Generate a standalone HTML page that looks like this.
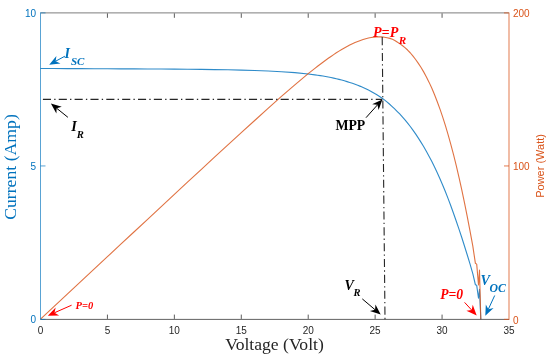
<!DOCTYPE html>
<html><head><meta charset="utf-8"><style>
html,body{margin:0;padding:0;background:#fff;}
svg{display:block;}
.sans{font-family:"Liberation Sans",Arial,sans-serif;}
.serif{font-family:"Liberation Serif","Times New Roman",serif;}
.bi{font-family:"Liberation Serif","Times New Roman",serif;font-weight:bold;font-style:italic;}
</style></head><body>
<svg width="550" height="358" viewBox="0 0 550 358">
<rect width="550" height="358" fill="#fff"/>
<g fill="none" stroke-width="1">
<polyline points="40.50,68.51 53.89,68.56 67.27,68.61 80.66,68.67 94.04,68.73 107.43,68.79 120.81,68.85 134.20,68.92 147.59,68.99 160.97,69.07 174.36,69.16 187.74,69.28 201.13,69.41 214.51,69.58 227.90,69.80 241.29,70.09 254.67,70.47 268.06,70.98 281.44,71.69 294.83,72.66 308.21,74.00 314.91,74.86 317.58,75.24 320.26,75.65 322.94,76.08 325.62,76.55 328.29,77.05 330.97,77.58 333.65,78.14 336.32,78.75 339.00,79.39 341.68,80.08 344.36,80.82 347.03,81.60 349.71,82.44 352.39,83.33 355.06,84.28 357.74,85.29 360.42,86.37 363.10,87.53 365.77,88.75 368.45,90.06 371.13,91.45 373.80,92.94 376.48,94.51 379.16,96.19 381.84,97.98 384.41,99.87 386.91,101.89 389.41,104.03 391.91,106.30 394.42,108.71 397.06,111.27 399.71,113.98 402.35,116.85 405.00,119.89 407.64,123.11 410.29,126.51 412.93,130.11 415.58,133.90 418.22,137.91 420.91,142.13 423.62,146.58 426.32,151.26 429.02,156.18 431.73,161.36 434.43,166.79 437.14,172.49 439.84,178.47 442.53,184.73 445.23,191.27 447.92,198.11 450.61,205.26 453.31,212.71 456.03,220.48 458.81,228.56 461.60,236.97 464.38,245.71 467.20,254.78 470.06,264.18 472.86,273.93 475.40,284.75 476.70,285.35 478.50,298.27 479.50,289.25 480.80,319.20" stroke="#0072BD" stroke-width="1.1" stroke-opacity="0.82" stroke-linejoin="round"/>
<polyline points="40.50,319.20 53.89,306.69 67.27,294.18 80.66,281.68 94.04,269.19 107.43,256.70 120.81,244.21 134.20,231.74 147.59,219.28 160.97,206.82 174.36,194.38 187.74,181.96 201.13,169.57 214.51,157.21 227.90,144.90 241.29,132.66 254.67,120.48 268.06,108.34 281.44,96.42 294.83,84.82 308.21,73.68 314.91,68.34 317.58,66.26 320.26,64.22 322.94,62.21 325.62,60.24 328.29,58.31 330.97,56.43 333.65,54.60 336.32,52.83 339.00,51.11 341.68,49.48 344.36,47.95 347.03,46.48 349.71,45.10 352.39,43.79 355.06,42.57 357.74,41.45 360.42,40.42 363.10,39.52 365.77,38.73 368.45,38.07 371.13,37.53 373.80,37.14 376.48,36.89 379.16,36.80 381.84,36.89 384.51,37.19 387.19,37.69 389.87,38.39 392.47,39.31 394.81,40.47 397.14,41.97 399.66,43.62 402.31,45.46 404.95,47.58 407.59,50.01 410.21,52.75 412.83,55.83 415.45,59.27 418.17,63.08 420.92,67.27 423.66,71.88 426.41,76.91 429.14,82.39 431.85,88.33 434.56,94.76 437.27,101.69 439.99,109.14 442.71,117.14 445.43,125.70 448.15,134.84 450.87,144.58 453.60,154.93 456.32,165.93 459.05,177.58 461.78,189.89 464.51,202.90 467.26,216.61 470.04,231.04 472.82,246.20 475.40,263.32 476.70,264.13 478.50,285.01 479.50,270.17 480.80,319.20" stroke="#D95319" stroke-width="1.1" stroke-opacity="0.82" stroke-linejoin="round"/>
<line x1="42.9" y1="99.4" x2="382.2" y2="99.4" stroke="#262626" stroke-width="1.1" stroke-dasharray="8.1 3.2 1.35 3.2"/>
<line x1="382.2" y1="37.1" x2="385.0" y2="319.2" stroke="#262626" stroke-width="1.1" stroke-dasharray="8.1 3.2 1.35 3.2"/>
</g>
<g stroke="#262626" stroke-width="1">
<line x1="40.5" y1="319.4" x2="509.0" y2="319.4" stroke-opacity="0.72"/>
<line x1="40.5" y1="12.9" x2="509.0" y2="12.9" stroke-opacity="0.6"/>
<g stroke-opacity="0.75"><line x1="107.43" y1="318.9" x2="107.43" y2="314.6"/><line x1="107.43" y1="13.4" x2="107.43" y2="17.8"/><line x1="174.36" y1="318.9" x2="174.36" y2="314.6"/><line x1="174.36" y1="13.4" x2="174.36" y2="17.8"/><line x1="241.29" y1="318.9" x2="241.29" y2="314.6"/><line x1="241.29" y1="13.4" x2="241.29" y2="17.8"/><line x1="308.21" y1="318.9" x2="308.21" y2="314.6"/><line x1="308.21" y1="13.4" x2="308.21" y2="17.8"/><line x1="375.14" y1="318.9" x2="375.14" y2="314.6"/><line x1="375.14" y1="13.4" x2="375.14" y2="17.8"/><line x1="442.07" y1="318.9" x2="442.07" y2="314.6"/><line x1="442.07" y1="13.4" x2="442.07" y2="17.8"/></g>
</g>
<g stroke="#0072BD" stroke-width="1" stroke-opacity="0.65"><line x1="40.5" y1="12.4" x2="40.5" y2="319.9"/><line x1="40.5" y1="165.95" x2="45.5" y2="165.95"/>
<line x1="41" y1="12.9" x2="45.5" y2="12.9"/><line x1="41" y1="319.4" x2="45.5" y2="319.4"/></g>
<g stroke="#D95319" stroke-width="1.1" stroke-opacity="0.7"><line x1="509.0" y1="12.4" x2="509.0" y2="319.9"/><line x1="509.0" y1="165.95" x2="504.0" y2="165.95"/>
<line x1="508.5" y1="12.9" x2="504.0" y2="12.9"/><line x1="508.5" y1="319.4" x2="504.0" y2="319.4"/></g>
<g class="sans" font-size="10" fill="#262626"><text x="40.50" y="333.5" text-anchor="middle">0</text><text x="107.43" y="333.5" text-anchor="middle">5</text><text x="174.36" y="333.5" text-anchor="middle">10</text><text x="241.29" y="333.5" text-anchor="middle">15</text><text x="308.21" y="333.5" text-anchor="middle">20</text><text x="375.14" y="333.5" text-anchor="middle">25</text><text x="442.07" y="333.5" text-anchor="middle">30</text><text x="509.00" y="333.5" text-anchor="middle">35</text></g>
<g class="sans" font-size="10" fill="#0072BD"><text x="36" y="323.40" text-anchor="end">0</text><text x="36" y="170.15" text-anchor="end">5</text><text x="36" y="16.90" text-anchor="end">10</text></g>
<g class="sans" font-size="10" fill="#D95319"><text x="513" y="323.60" text-anchor="start">0</text><text x="513" y="170.35" text-anchor="start">100</text><text x="513" y="17.10" text-anchor="start">200</text></g>
<text class="serif" font-size="17.6" fill="#262626" x="274.5" y="350.3" text-anchor="middle">Voltage (Volt)</text>
<text class="serif" font-size="17.7" fill="#0072BD" transform="translate(15.5,167) rotate(-90)" text-anchor="middle">Current (Amp)</text>
<text class="sans" font-size="11" fill="#D95319" transform="translate(543.5,165.9) rotate(-90)" text-anchor="middle">Power (Watt)</text>
<line x1="64.90" y1="56.20" x2="55.66" y2="61.20" stroke="#0072BD" stroke-width="1.0"/><polygon points="49.20,64.70 56.39,55.92 55.66,61.20 60.48,63.48" fill="#0072BD"/>
<line x1="67.90" y1="117.30" x2="56.62" y2="108.21" stroke="#000" stroke-width="1.0"/><polygon points="50.90,103.60 61.77,106.84 56.62,108.21 56.38,113.54" fill="#000"/>
<line x1="366.00" y1="117.70" x2="377.49" y2="104.87" stroke="#000" stroke-width="1.0"/><polygon points="382.40,99.40 378.59,110.09 377.49,104.87 372.19,104.35" fill="#000"/>
<line x1="71.60" y1="305.20" x2="54.52" y2="312.73" stroke="#FF0000" stroke-width="1.0"/><polygon points="47.80,315.70 55.67,307.53 54.52,312.73 59.14,315.40" fill="#FF0000"/>
<line x1="464.60" y1="302.40" x2="471.71" y2="310.10" stroke="#FF0000" stroke-width="1.0"/><polygon points="476.70,315.50 466.42,310.70 471.71,310.10 472.73,304.87" fill="#FF0000"/>
<line x1="494.70" y1="295.50" x2="488.39" y2="309.13" stroke="#0072BD" stroke-width="1.0"/><polygon points="485.30,315.80 485.81,304.47 488.39,309.13 493.61,308.08" fill="#0072BD"/>
<text class="bi" font-size="14" fill="#0072BD" x="64.5" y="57.5">I</text><text class="bi" font-size="11" fill="#0072BD" x="71" y="65">SC</text>
<text class="bi" font-size="14.3" fill="#000" x="71.2" y="130.6">I</text><text class="bi" font-size="10.6" fill="#000" x="76.8" y="137.8">R</text>
<text class="serif" font-weight="bold" font-size="13.8" fill="#000" x="335.4" y="130.4">MPP</text>
<text class="bi" font-size="14.1" fill="#FF0000" x="373.0" y="36.8">P=P</text><text class="bi" font-size="11.2" fill="#FF0000" x="398.8" y="44.2">R</text>
<text class="bi" font-size="10.5" fill="#FF0000" x="75.5" y="308.5">P=0</text>
<text class="bi" font-size="13.6" fill="#FF0000" x="440.3" y="299.3">P=0</text>
<text class="bi" font-size="14.2" fill="#0072BD" x="480.6" y="284.8">V</text><text class="bi" font-size="11.7" fill="#0072BD" x="489.6" y="292.4">OC</text>
<text class="bi" font-size="14" fill="#000" x="344.6" y="289.6">V</text><text class="bi" font-size="10.5" fill="#000" x="353.6" y="296.0">R</text>
<line x1="362.30" y1="298.90" x2="375.09" y2="309.75" stroke="#000" stroke-width="1.0"/><polygon points="380.70,314.50 369.91,310.99 375.09,309.75 375.47,304.43" fill="#000"/>
</svg>
</body></html>
